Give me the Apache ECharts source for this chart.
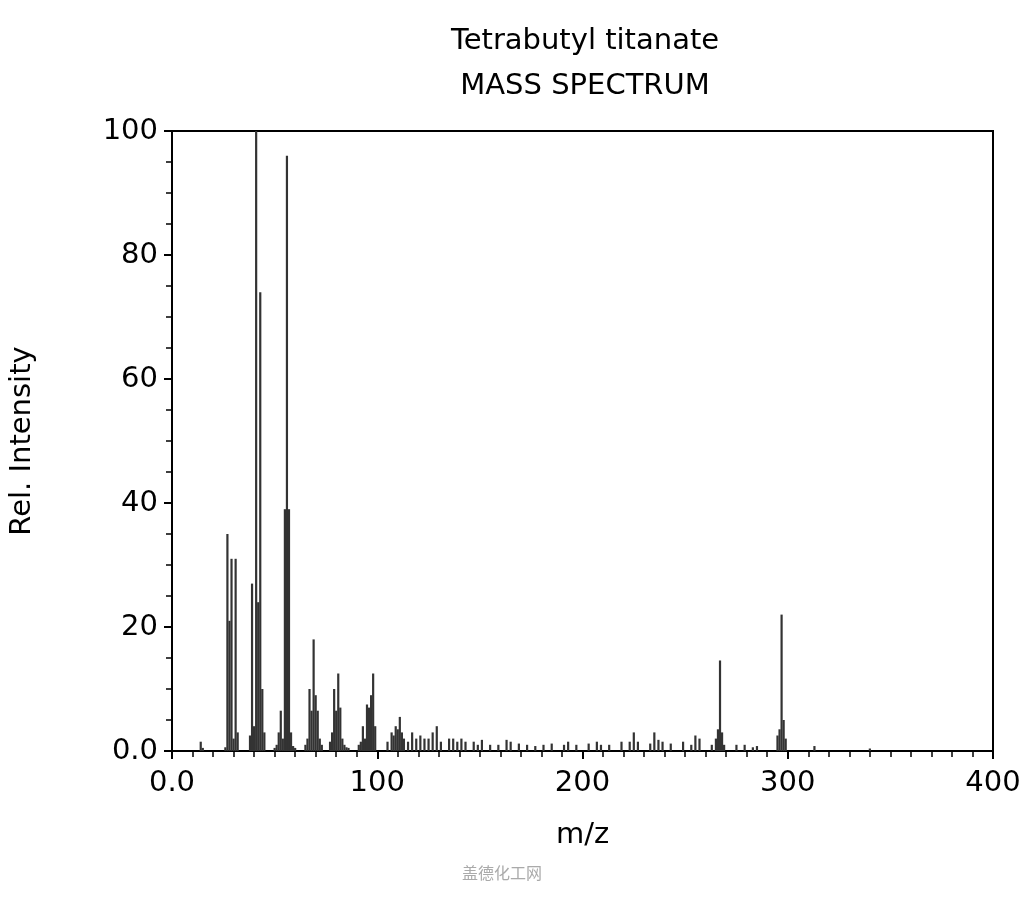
<!DOCTYPE html>
<html><head><meta charset="utf-8">
<script src="https://cdn.jsdelivr.net/npm/echarts@6/dist/echarts.min.js"></script>
<style>html,body{margin:0;background:#fff}#c{width:1024px;height:900px}</style>
</head><body><div id="c"></div>
<script>
// m/z and relative intensity
var mz = [14,15,26,27,28,29,30,31,32,38,39,40,41,42,43,44,45,50,51,52,53,54,55,56,57,58,59,60,
  65,66,67,68,69,70,71,72,73,77,78,79,80,81,82,83,84,85,86,91,92,93,94,95,96,97,98,99,
  105,107,108,109,110,111,112,113,115,117,119,121,123,125,127,129,131,135,137,139,141,143,147,149,151,
  155,159,163,165,169,173,177,181,185,191,193,197,203,207,209,213,219,223,225,227,233,235,237,239,
  243,249,253,255,257,263,265,266,267,268,269,275,279,283,285,295,296,297,298,299,313,340];
var intensity = [1.5,0.5,0.6,35,21,31,2,31,3,2.5,27,4,100,24,74,10,3,0.5,1,3,6.5,2,39,96,39,3,0.8,0.5,
  1,2,10,6.5,18,9,6.5,2,1,1.5,3,10,6.5,12.5,7,2,1,0.6,0.5,1,1.5,4,2,7.5,7,9,12.5,4,
  1.5,3,2.5,4,3.5,5.5,3,2,1.5,3,2,2.5,2,2,3,4,1.5,2,2,1.5,2,1.5,1.5,1,1.8,
  1,1,1.8,1.5,1.2,1,0.8,1,1.2,1,1.5,1,1.2,1.5,1,1,1.5,1.5,3,1.5,1.2,3,1.8,1.5,
  1.2,1.5,1,2.5,2,1,2,3.5,14.6,3,1,1,1,0.6,0.8,2.5,3.5,22,5,2,0.8,0.4];
var xTicks = ['0.0','100','200','300','400'];
var yTicks = ['0.0','20','40','60','80','100'];

var font = 'DejaVu Sans';
var chart = echarts.init(document.getElementById('c'));
chart.setOption({
  animation: false,
  textStyle: {fontFamily: font, color: '#000'},
  title: {
    text: 'Tetrabutyl titanate', subtext: 'MASS SPECTRUM', left: 580, textAlign: 'center', top: 22,
    itemGap: 16,
    textStyle: {fontSize: 29, fontWeight: 'normal', color: '#000', fontFamily: font},
    subtextStyle: {fontSize: 29, color: '#000', fontFamily: font}
  },
  graphic: [{type: 'text', left: 462, top: 865, style: {text: '盖德化工网', fill: '#aaa', fontSize: 16, fontFamily: 'Noto Sans CJK SC'}}],
  grid: {left: 168, right: 31, top: 131, bottom: 149, show: true, borderColor: '#000', borderWidth: 2},
  xAxis: {
    type: 'value', min: 0, max: 400, interval: 100, name: 'm/z', nameLocation: 'middle', nameGap: 70,
    nameTextStyle: {fontSize: 29, color: '#000'},
    axisLine: {lineStyle: {color: '#000', width: 2}},
    axisTick: {length: 8, inside: false, lineStyle: {width: 2, color: '#000'}},
    minorTick: {show: true, splitNumber: 10, length: 6, lineStyle: {color: '#000', width: 1.5}},
    splitLine: {show: false},
    axisLabel: {fontSize: 29, color: '#000', margin: 18, formatter: function (v) { return xTicks[v / 100]; }}
  },
  yAxis: {
    type: 'value', min: 0, max: 100, interval: 20, name: 'Rel. Intensity', nameLocation: 'middle', nameGap: 135,
    nameTextStyle: {fontSize: 29, color: '#000'},
    axisLine: {lineStyle: {color: '#000', width: 2}},
    axisTick: {length: 8, lineStyle: {width: 2, color: '#000'}},
    minorTick: {show: true, splitNumber: 4, length: 6, lineStyle: {color: '#000', width: 1.5}},
    splitLine: {show: false},
    axisLabel: {fontSize: 29, color: '#000', margin: 14, formatter: function (v) { return yTicks[v / 20]; }}
  },
  series: [{
    type: 'bar', barWidth: 2.2, itemStyle: {color: '#333'},
    data: mz.map(function (m, i) { return [m, intensity[i]]; })
  }]
});
</script></body></html>
